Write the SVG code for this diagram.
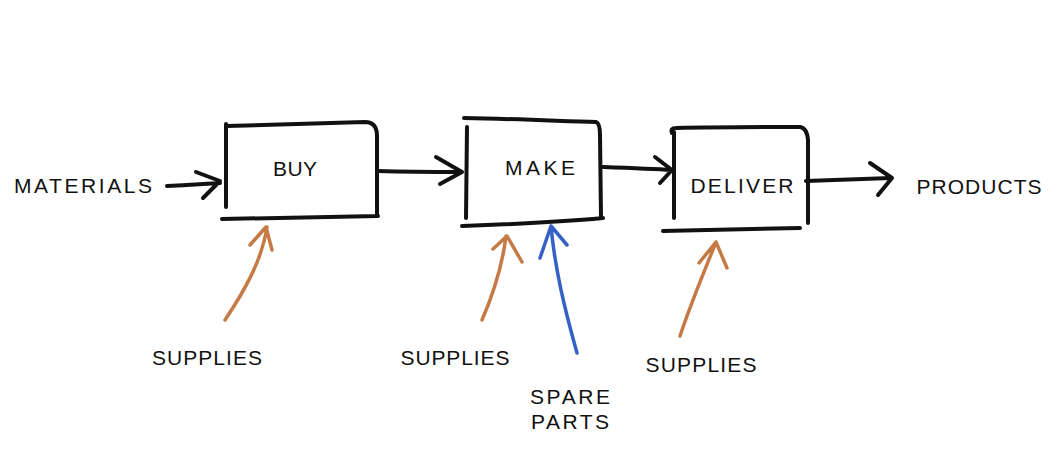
<svg xmlns="http://www.w3.org/2000/svg" width="1057" height="449" viewBox="0 0 1057 449">
<style>
.ink{fill:none;stroke:#111;stroke-width:4;stroke-linecap:round;stroke-linejoin:round}
.org{fill:none;stroke:#c57a45;stroke-width:3.5;stroke-linecap:round;stroke-linejoin:round}
.blu{fill:none;stroke:#3560c8;stroke-width:3.5;stroke-linecap:round;stroke-linejoin:round}
.t{font-family:"Liberation Sans",Arial,sans-serif;font-size:21px;fill:#111;text-anchor:middle;dominant-baseline:central}
</style>
<rect width="1057" height="449" fill="#fff"/>
<g id="materials"><text class="t" x="83" y="185" textLength="138" lengthAdjust="spacing">MATERIALS</text></g>
<g id="buy">
<path class="ink" d="M226,124 L226,207 M226,126 C290,124 330,123 365,122 Q377,122 377,136 L377,215 M222,219 C280,218 330,217 378,216"/>
<text class="t" x="295" y="168" textLength="44" lengthAdjust="spacing">BUY</text>
</g>
<g id="make">
<path class="ink" d="M467,127 L466,218 M464,118 C520,119 560,121 596,122 Q600,123 600,135 L601,217 M462,226 C520,224 560,222 603,218"/>
<text class="t" x="540" y="167" textLength="70" lengthAdjust="spacing">MAKE</text>
</g>
<g id="deliver">
<path class="ink" d="M672,133 Q670,128 676,128 C720,127 760,127 800,127 Q807,128 808,140 L808,223 M674,132 L674,218 M663,231 C710,230 760,229 800,228"/>
<text class="t" x="742" y="185" textLength="103" lengthAdjust="spacing">DELIVER</text>
</g>
<g id="products"><text class="t" x="979" y="186" textLength="125" lengthAdjust="spacing">PRODUCTS</text></g>
<g id="supplies-buy"><text class="t" x="207" y="357" textLength="110" lengthAdjust="spacing">SUPPLIES</text></g>
<g id="supplies-make"><text class="t" x="455" y="357" textLength="109" lengthAdjust="spacing">SUPPLIES</text></g>
<g id="spare-parts">
<text class="t" x="570" y="396" textLength="80" lengthAdjust="spacing">SPARE</text>
<text class="t" x="570" y="421" textLength="78" lengthAdjust="spacing">PARTS</text>
</g>
<g id="supplies-deliver"><text class="t" x="701" y="364" textLength="111" lengthAdjust="spacing">SUPPLIES</text></g>
<g id="connectors">
<path class="ink" d="M167,186 C185,185 205,184 220,183 M196,172 L220,181 L203,198"/>
<path class="ink" d="M378,171 C410,172 440,172 462,172 M436,157 L462,172 L440,184"/>
<path class="ink" d="M603,167 C630,168 655,169 672,170 M655,157 L672,170 L660,183"/>
<path class="ink" d="M806,181 C840,180 870,179 891,178 M870,163 L892,178 L878,195"/>
<path class="org" d="M225,320 C245,290 262,260 267,227 M250,245 L266,227 L272,250"/>
<path class="org" d="M482,320 C495,290 503,260 506,236 M493,249 L507,236 L522,262"/>
<path class="blu" d="M577,353 C565,310 555,270 551,226 M540,258 L551,226 L567,245"/>
<path class="org" d="M680,336 C692,300 705,270 716,242 M699,263 L716,242 L727,268"/>
</g>
</svg>
